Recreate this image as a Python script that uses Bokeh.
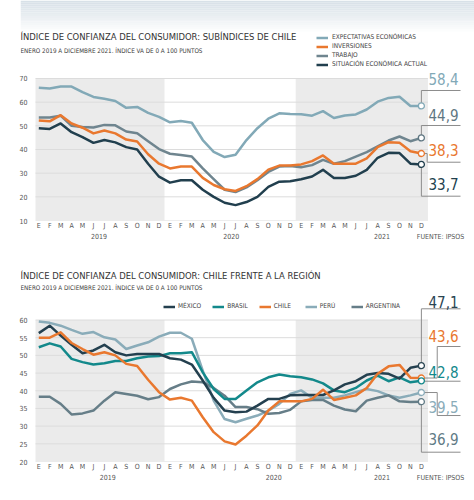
import numpy as np
from bokeh.plotting import figure
from bokeh.models import (Range1d, FixedTicker, LinearAxis, Legend, LegendItem, Label)
from bokeh.layouts import column
from bokeh.embed import file_html
from bokeh.resources import INLINE

FONT = "DejaVu Sans Condensed, Roboto"

# ---------------- data ----------------
MONTHS = ["E", "F", "M", "A", "M", "J", "J", "A", "S", "O", "N", "D"]
YEARS = ["2019", "2020", "2021"]

# Chart 1: subíndices de Chile
expectativas = [66.1, 65.8, 66.6, 66.6, 64.2, 62.2, 61.4, 60.5, 57.6, 58.0, 55.5, 53.8,
                51.5, 52.0, 51.3, 44.0, 39.0, 36.8, 37.8, 44.0, 49.0, 53.0, 55.3, 55.0,
                54.9, 54.3, 56.2, 53.3, 54.4, 54.8, 56.9, 60.2, 61.8, 62.3, 58.4, 58.4]
inversiones = [52.3, 51.9, 54.5, 51.0, 49.2, 46.8, 48.0, 46.8, 44.2, 43.4, 38.0, 34.0,
               32.0, 32.8, 32.8, 28.0, 25.0, 23.2, 22.5, 24.5, 27.5, 31.5, 33.2, 33.2,
               33.7, 35.1, 37.5, 34.0, 34.0, 34.0, 36.2, 41.0, 43.1, 42.8, 39.3, 38.3]
trabajo = [53.5, 53.5, 54.3, 50.0, 49.5, 49.3, 50.4, 50.2, 47.6, 46.9, 43.5, 40.2,
           38.2, 37.7, 37.0, 32.0, 27.5, 23.0, 22.0, 24.0, 27.0, 30.5, 32.8, 33.0,
           32.5, 33.4, 35.6, 34.0, 35.1, 37.0, 38.9, 41.3, 43.8, 45.5, 43.5, 44.9]
situacion = [49.0, 48.7, 51.0, 47.3, 45.2, 42.8, 44.0, 43.0, 41.0, 40.0, 34.0, 28.5,
             26.0, 27.0, 27.0, 23.0, 20.0, 17.5, 16.5, 17.8, 20.0, 24.2, 26.4, 26.6,
             27.4, 28.6, 31.4, 28.0, 28.0, 28.9, 31.4, 36.5, 38.6, 38.5, 34.0, 33.7]

# Chart 2: Chile frente a la región
mexico = [56.3, 58.4, 55.6, 53.0, 50.6, 51.4, 53.0, 50.9, 50.0, 50.4, 50.4, 50.4,
          49.2, 48.8, 47.4, 42.9, 38.0, 34.4, 33.9, 34.1, 35.8, 37.7, 37.7, 38.7,
          38.8, 38.8, 38.8, 40.1, 41.8, 42.7, 44.5, 45.0, 44.8, 43.4, 46.5, 47.1]
brasil = [52.3, 53.4, 52.5, 49.0, 48.1, 47.4, 47.8, 48.4, 48.4, 49.2, 49.7, 49.8,
          50.6, 50.6, 50.9, 45.2, 40.5, 37.7, 37.7, 40.1, 42.4, 43.8, 44.6, 44.1,
          43.8, 43.2, 42.1, 40.1, 39.6, 40.8, 42.9, 44.3, 42.7, 43.8, 42.4, 42.8]
chile = [55.0, 55.0, 56.5, 53.5, 51.8, 50.2, 50.9, 50.0, 47.6, 47.0, 43.1, 39.6,
         37.5, 38.0, 37.2, 32.5, 28.3, 25.7, 24.8, 27.3, 30.2, 34.4, 37.0, 37.0,
         37.0, 37.7, 40.3, 37.4, 38.0, 38.7, 40.8, 44.8, 46.9, 47.3, 43.7, 43.6]
peru = [59.6, 59.2, 58.4, 57.2, 56.1, 56.6, 55.1, 54.5, 51.8, 52.8, 53.7, 55.3,
        56.4, 56.4, 54.7, 45.7, 37.2, 32.0, 31.1, 32.1, 33.0, 34.4, 36.3, 39.1,
        40.1, 38.0, 38.0, 38.0, 38.7, 39.6, 40.5, 39.9, 38.7, 38.0, 38.7, 39.5]
argentina = [38.3, 38.3, 36.3, 33.3, 33.6, 34.4, 37.2, 39.6, 39.1, 38.6, 37.6, 38.2,
             40.5, 41.8, 42.6, 42.4, 40.8, 38.6, 35.4, 35.4, 34.8, 33.5, 33.7, 34.6,
             37.0, 37.4, 37.4, 35.8, 34.7, 34.2, 37.2, 38.0, 38.7, 37.0, 36.8, 36.9]

TOP_Y_TICKS = [10, 20, 30, 40, 50, 60, 70]
BOT_Y_TICKS = [20, 25, 30, 35, 40, 45, 50, 55, 60]
SOURCE = "FUENTE: IPSOS"
SUBTITLE = "ENERO 2019 A DICIEMBRE 2021. ÍNDICE VA DE 0 A 100 PUNTOS"

# ---------------- styles / layout ----------------
C_EXP, C_INV, C_TRA, C_SIT = "#82a9b7", "#e9782f", "#6f858f", "#213f4e"
C_MEX, C_BRA, C_CHI, C_PER, C_ARG = "#24404f", "#13898b", "#e9782f", "#8aacb9", "#667e88"
BAND = "#ebebeb"
GRID = "#dcdcdc"
BRACKET = "#8c8c8c"
W = 474
BL = 20                      # left border shared by all figures
X_RANGE = (-1.674, 39.86)
LW = 2.5

N = len(MONTHS) * len(YEARS)
xs = list(range(N))
month_labels = {i: MONTHS[i % 12] for i in xs}


def clean(p):
    p.outline_line_color = None
    p.xgrid.visible = False
    p.ygrid.visible = False
    p.background_fill_color = "white"
    p.border_fill_color = "white"


def style_axis(ax, standoff, size="7px"):
    ax.axis_line_color = None
    ax.major_tick_line_color = None
    ax.minor_tick_line_color = None
    ax.major_tick_out = 0
    ax.major_tick_in = 0
    ax.minor_tick_out = 0
    ax.minor_tick_in = 0
    ax.major_label_standoff = standoff
    ax.major_label_text_font = FONT
    ax.major_label_text_font_size = size
    ax.major_label_text_color = "#555555"


def base_fig(height, y0, y1, yticks, border_bottom, year_pos, src_pos):
    p = figure(width=W, height=height, x_range=Range1d(*X_RANGE), y_range=Range1d(y0, y1),
               toolbar_location=None, output_backend="svg",
               min_border_left=BL, min_border_right=0, min_border_top=0,
               min_border_bottom=border_bottom)
    clean(p)
    p.yaxis.ticker = FixedTicker(ticks=yticks)
    style_axis(p.yaxis[0], -7)
    p.xaxis.ticker = FixedTicker(ticks=xs)
    p.xaxis.major_label_overrides = month_labels
    style_axis(p.xaxis[0], 1)
    ticks = list(year_pos) + [src_pos]
    labels = {pos: yr for pos, yr in zip(year_pos, YEARS)}
    labels[src_pos] = SOURCE
    ya = LinearAxis(ticker=FixedTicker(ticks=ticks), major_label_overrides=labels)
    style_axis(ya, 0)
    p.add_layout(ya, "below")
    # year bands (2019 and 2021 shaded) and grid
    p.quad(left=[-0.3, 23.5], right=[11.5, 35.6], bottom=yticks[0], top=yticks[-1],
           fill_color=BAND, line_color=None)
    p.segment(x0=[-0.3] * len(yticks), x1=[35.6] * len(yticks), y0=yticks, y1=yticks,
              line_color=GRID, line_width=1)
    return p


def header(height, top, bottom):
    h = figure(width=W, height=height, x_range=Range1d(BL, W), y_range=Range1d(bottom, top),
               toolbar_location=None, output_backend="svg", min_border=0,
               min_border_left=BL, x_axis_type=None, y_axis_type=None)
    clean(h)
    return h


def txt(p, x, y, text, size, color, align="left", style="normal"):
    p.add_layout(Label(x=x, y=y, text=text, text_font=FONT, text_font_size=size,
                       text_color=color, text_align=align, text_baseline="middle",
                       text_font_style=style))


def bracket(p, series, color, y_under, label_y, x_mid=None):
    xl = xs[-1]
    yl = series[-1]
    if x_mid is None:
        bx, by = [xl, xl, 38.58], [yl, y_under, y_under]
    else:
        bx, by = [xl, x_mid, x_mid, 38.58], [yl, yl, y_under, y_under]
    p.line(bx, by, line_color=BRACKET, line_width=1)
    p.scatter([xl], [yl], size=6, fill_color="white", line_color=color, line_width=1.3)
    txt(p, 38.40, label_y, f"{yl:.1f}".replace(".", ","), "15px", color, align="right")


def style_legend(lg, spacing, standoff):
    lg.padding = 0
    lg.margin = 0
    lg.spacing = spacing
    lg.border_line_color = None
    lg.background_fill_alpha = 0
    lg.glyph_width = 12
    lg.glyph_height = 9
    lg.label_height = 9
    lg.label_standoff = standoff
    lg.label_text_font = FONT
    lg.label_text_font_size = "6.5px"
    lg.label_text_color = "#444444"
    lg.label_text_baseline = "middle"


# ---------------- chart 1 header ----------------
hdr1 = header(69, 0, 69)
nb = 16
edges = np.linspace(0, 31, nb + 1)
c0, c1 = np.array([216, 225, 232]), np.array([252, 253, 253])
cols = ["#%02x%02x%02x" % tuple((c0 + (c1 - c0) * k / (nb - 1)).astype(int)) for k in range(nb)]
hdr1.quad(left=BL, right=W, top=edges[:-1], bottom=edges[1:], fill_color=cols, line_color=None)
txt(hdr1, 20, 36, "ÍNDICE DE CONFIANZA DEL CONSUMIDOR: SUBÍNDICES DE CHILE", "9.4px", "#333333")
txt(hdr1, 20, 50, SUBTITLE, "6.3px", "#3a3a3a")
nan1 = np.array([np.nan])
k_exp = hdr1.line(nan1, nan1, line_color=C_EXP, line_width=LW)
k_inv = hdr1.line(nan1, nan1, line_color=C_INV, line_width=LW)
k_tra = hdr1.line(nan1, nan1, line_color=C_TRA, line_width=LW)
k_sit = hdr1.line(nan1, nan1, line_color=C_SIT, line_width=LW)
leg1 = Legend(items=[LegendItem(label="EXPECTATIVAS ECONÓMICAS", renderers=[k_exp]),
                     LegendItem(label="INVERSIONES", renderers=[k_inv]),
                     LegendItem(label="TRABAJO", renderers=[k_tra]),
                     LegendItem(label="SITUACIÓN ECONÓMICA ACTUAL", renderers=[k_sit])],
              location=(296, 0.5), orientation="vertical")
style_legend(leg1, 0, 4)
hdr1.add_layout(leg1, "center")

# ---------------- chart 1 ----------------
p1 = base_fig(183, 10, 73.80, TOP_Y_TICKS, 32, [5.5, 17.6, 31.4], 36.75)
p1.line(xs, expectativas, line_color=C_EXP, line_width=LW, line_join="round")
p1.line(xs, trabajo, line_color=C_TRA, line_width=LW, line_join="round")
p1.line(xs, situacion, line_color=C_SIT, line_width=LW, line_join="round")
p1.line(xs, inversiones, line_color=C_INV, line_width=LW, line_join="round")

bracket(p1, expectativas, C_EXP, 64.93, 69.66)
bracket(p1, trabajo, "#5f7782", 50.14, 54.37)
bracket(p1, inversiones, C_INV, 34.63, 39.58, x_mid=35.53)
bracket(p1, situacion, C_SIT, 20.27, 25.51)

# ---------------- chart 2 header ----------------
hdr2 = header(39, 252, 291)
txt(hdr2, 20, 275, "ÍNDICE DE CONFIANZA DEL CONSUMIDOR: CHILE FRENTE A LA REGIÓN", "9.4px", "#333333")
txt(hdr2, 20, 287, SUBTITLE, "6.3px", "#3a3a3a")

# ---------------- chart 2 ----------------
p2 = base_fig(209, 20, 68.06, BOT_Y_TICKS, 39, [6.3, 21.5, 31.4], 36.75)
r_per = p2.line(xs, peru, line_color=C_PER, line_width=LW, line_join="round")
r_arg = p2.line(xs, argentina, line_color=C_ARG, line_width=LW, line_join="round")
r_bra = p2.line(xs, brasil, line_color=C_BRA, line_width=LW, line_join="round")
r_mex = p2.line(xs, mexico, line_color=C_MEX, line_width=LW, line_join="round")
r_chi = p2.line(xs, chile, line_color=C_CHI, line_width=LW, line_join="round")

bracket(p2, mexico, "#2a4552", 63.17, 65.09)
bracket(p2, chile, C_CHI, 52.51, 55.62, x_mid=36.45)
bracket(p2, brasil, C_BRA, 42.70, 45.44)
bracket(p2, peru, C_PER, 33.0, 35.35, x_mid=36.45)
bracket(p2, argentina, "#607a85", 22.63, 26.42)

leg2 = Legend(items=[LegendItem(label="MÉXICO", renderers=[r_mex]),
                     LegendItem(label="BRASIL", renderers=[r_bra]),
                     LegendItem(label="CHILE", renderers=[r_chi]),
                     LegendItem(label="PERÚ", renderers=[r_per]),
                     LegendItem(label="ARGENTINA", renderers=[r_arg])],
              location=(143, 150.5), orientation="horizontal")
style_legend(leg2, 11, 3)
p2.add_layout(leg2, "center")

layout = column(hdr1, p1, hdr2, p2, spacing=0)
open("out.html", "w").write(file_html(layout, INLINE))
